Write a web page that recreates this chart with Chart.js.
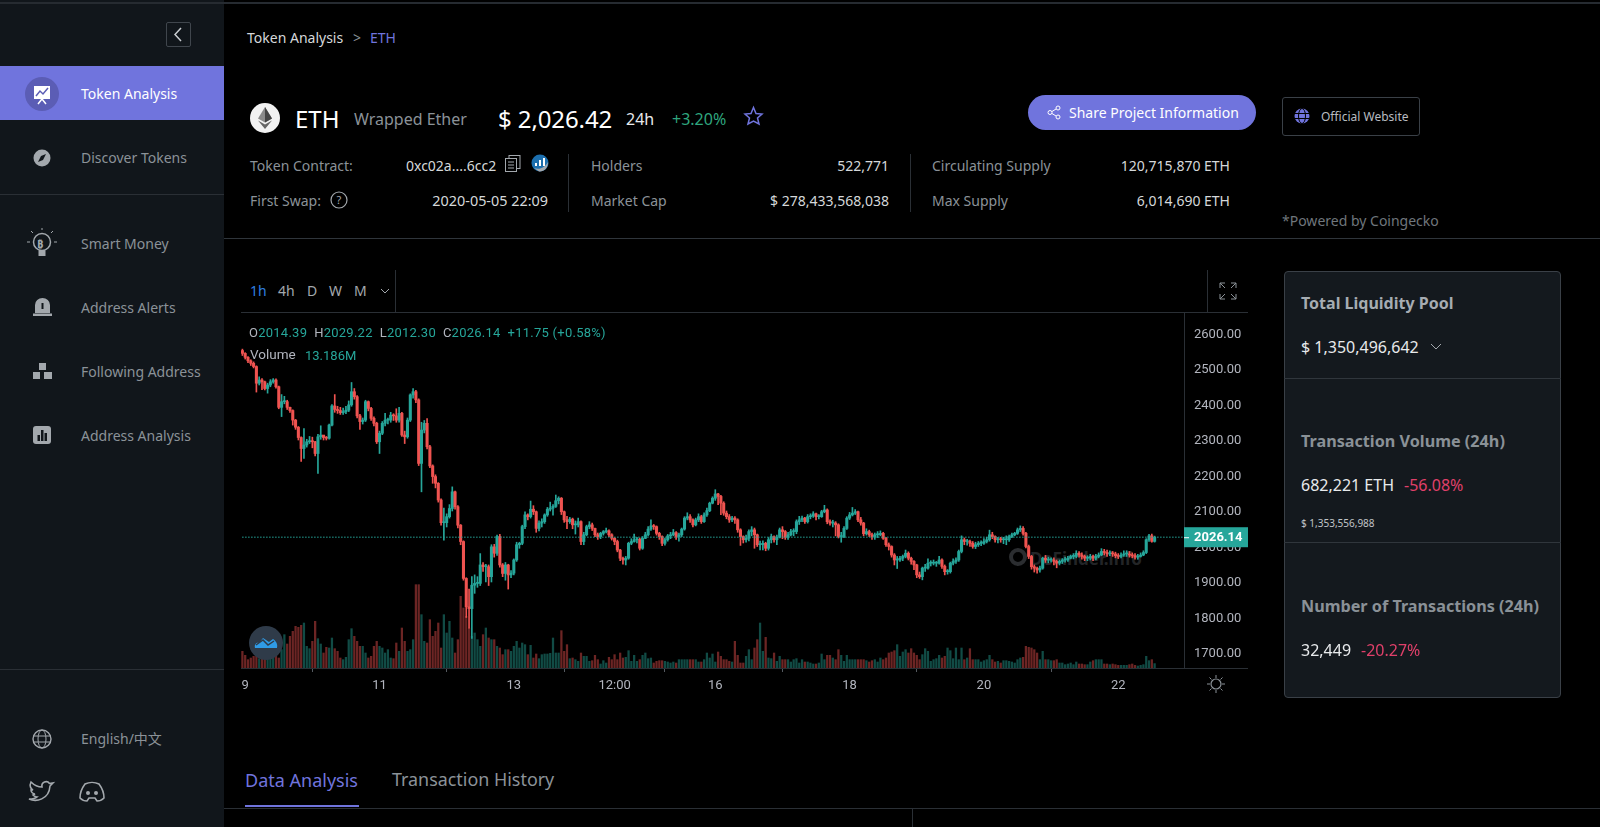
<!DOCTYPE html>
<html lang="en">
<head>
<meta charset="UTF-8">
<title>Token Analysis - ETH</title>
<script src="https://cdn.jsdelivr.net/npm/chart.js"></script>
<style>
  html, body { margin: 0; width: 1600px; height: 827px; overflow: hidden; background: #000; font-family: "Noto Sans", sans-serif; color: #d5d8da; }
  .t { position: absolute; white-space: nowrap; transform: translateY(-50%); font-size: 14px; line-height: 1; }
  .r { transform: translate(-100%, -50%); }
  .gray { color: #8b9298; }
  .box { position: absolute; box-sizing: border-box; }
  .hl { position: absolute; height: 1px; background: #2a2f35; }
  .vl { position: absolute; width: 1px; background: #2a2f35; }
  svg { position: absolute; overflow: visible; }
  #chartWrap { position: absolute; left: 241px; top: 312px; width: 1007px; height: 386px; }
</style>
</head>
<body>
<div class="box" style="left:0;top:0;width:224px;height:827px;background:#11161b"></div>
<div class="hl" style="left:0;top:2px;width:1600px;height:2px;background:#262b31"></div>

<!-- sidebar -->
<div class="box" style="left:166px;top:22px;width:25px;height:25px;border:1px solid #40464d;border-radius:2px"></div>
<svg style="left:166px;top:22px" width="25" height="25"><path d="M15 6 L9 12.5 L15 19" fill="none" stroke="#c8ccd0" stroke-width="1.5"/></svg>
<div class="box" style="left:0;top:66px;width:224px;height:54px;background:#7074dd"></div>
<svg style="left:25px;top:76px" width="34" height="36"><circle cx="17" cy="18" r="17" fill="#5b5db5"/><rect x="9" y="10" width="16" height="13" fill="#fff"/><path d="M11 20 L15 15 L18 18 L23 12" fill="none" stroke="#5b5db5" stroke-width="1.5"/><path d="M13 28 L17 23 L21 28" fill="none" stroke="#fff" stroke-width="1.5"/></svg>
<div class="t" style="left:81px;top:94px;color:#fff">Token Analysis</div>
<svg style="left:33px;top:149px" width="20" height="20"><circle cx="9" cy="9" r="8.5" fill="#a3a8ad"/><path d="M5 13 L8 7 L13 5 L10 11 Z" fill="#11161b"/></svg>
<div class="t gray" style="left:81px;top:158px">Discover Tokens</div>
<div class="hl" style="left:0;top:194px;width:224px"></div>
<svg style="left:27px;top:228px" width="30" height="30"><circle cx="15" cy="14" r="8.5" fill="none" stroke="#a3a8ad" stroke-width="1.5"/><rect x="11.5" y="23" width="7" height="5" fill="#a3a8ad"/><path d="M3 14H0M30 14H27M6 5L4 3M24 5L26 3M15 2V0" stroke="#a3a8ad"/></svg>
<div class="t" style="left:37px;top:243px;color:#a3a8ad;font-size:11px;font-weight:700">₿</div>
<div class="t gray" style="left:81px;top:244px">Smart Money</div>
<svg style="left:33px;top:298px" width="20" height="20"><path d="M2 15 V7 A7.5 7 0 0 1 17 7 V15 Z" fill="#a3a8ad"/><rect x="0" y="15.5" width="19" height="2.5" fill="#a3a8ad"/><rect x="8.5" y="5" width="2" height="6" fill="#11161b"/></svg>
<div class="t gray" style="left:81px;top:308px">Address Alerts</div>
<svg style="left:32px;top:362px" width="22" height="20"><path d="M7 1h7v7H7zM1 10h7v7H1zM12 10h8v7h-8z" fill="#a3a8ad"/></svg>
<div class="t gray" style="left:81px;top:372px">Following Address</div>
<svg style="left:33px;top:426px" width="20" height="20"><rect width="18" height="18" rx="3" fill="#a3a8ad"/><path d="M4.5 15V9h2.5v6zM8 15V4h2.5v11zM11.5 15V7H14v8z" fill="#11161b"/></svg>
<div class="t gray" style="left:81px;top:436px">Address Analysis</div>
<div class="hl" style="left:0;top:669px;width:224px"></div>
<svg style="left:32px;top:729px" width="20" height="20"><circle cx="10" cy="10" r="9" fill="none" stroke="#a3a8ad" stroke-width="1.4"/><ellipse cx="10" cy="10" rx="4" ry="9" fill="none" stroke="#a3a8ad"/><path d="M1 7h18M1 13h18" stroke="#a3a8ad"/></svg>
<div class="t gray" style="left:81px;top:739px;font-family:'Noto Sans','Noto Sans CJK SC'">English/中文</div>
<svg style="left:28px;top:780px" width="26" height="24"><path d="M1 19 C8 22 21 20 22 6 L25 3 L21.5 3.5 C19 0 13 2 14 7 C9 7 5 4 3 2 C1 6 3 9 5 10 L3 10 C3 12 5 14 7 14 L5 15 C6 16 8 17 9 17 C7 19 4 19 1 19 Z" fill="none" stroke="#a3a8ad" stroke-width="1.6"/></svg>
<svg style="left:79px;top:781px" width="27" height="22"><path d="M6 3 C10 1 16 1 20 3 C23 7 25 12 25 17 C23 19 20 20 18 20 L16 17 H10 L8 20 C6 20 3 19 1 17 C1 12 3 7 6 3 Z" fill="none" stroke="#a3a8ad" stroke-width="1.6"/><circle cx="9" cy="12" r="2" fill="#a3a8ad"/><circle cx="17" cy="12" r="2" fill="#a3a8ad"/></svg>

<!-- header -->
<div class="t" style="left:247px;top:38px">Token Analysis</div>
<div class="t gray" style="left:353px;top:38px">&gt;</div>
<div class="t" style="left:370px;top:38px;color:#7074dd">ETH</div>
<svg style="left:250px;top:103px" width="30" height="30"><circle cx="15" cy="15" r="15" fill="#f2f2f2"/><path d="M15 4 L22 15.5 L15 19.5 L8 15.5 Z" fill="#8a8a8a"/><path d="M15 4 L22 15.5 L15 19.5 Z" fill="#444"/><path d="M8 17.5 L15 26 L22 17.5 L15 21.5 Z" fill="#666"/></svg>
<div class="t" style="left:295px;top:119px;font-size:24px;color:#fff">ETH</div>
<div class="t gray" style="left:354px;top:119px;font-size:16px">Wrapped Ether</div>
<div class="t" style="left:498px;top:119px;font-size:24px;color:#fff;letter-spacing:-.1px">$ 2,026.42</div>
<div class="t" style="left:626px;top:119px;font-size:16px;color:#e8eaec">24h</div>
<div class="t" style="left:672px;top:119px;font-size:16px;color:#2fa67e">+3.20%</div>
<svg style="left:744px;top:106px" width="20" height="20"><path d="M9.5 1.5 L12 7.5 L18 8 L13.5 12 L15 18 L9.5 15 L4 18 L5.5 12 L1 8 L7 7.5 Z" fill="none" stroke="#7074dd" stroke-width="1.5"/></svg>

<div class="box" style="left:1028px;top:95px;width:228px;height:35px;background:#7074dd;border-radius:18px"></div>
<svg style="left:1047px;top:105px" width="14" height="15"><circle cx="3" cy="7.5" r="2" fill="none" stroke="#fff"/><circle cx="11" cy="3" r="2" fill="none" stroke="#fff"/><circle cx="11" cy="12" r="2" fill="none" stroke="#fff"/><path d="M5 6.5L9 4M5 8.5L9 11" stroke="#fff"/></svg>
<div class="t" style="left:1069px;top:113px;color:#fff">Share Project Information</div>
<div class="box" style="left:1282px;top:97px;width:138px;height:39px;border:1px solid #3a4047;border-radius:3px"></div>
<svg style="left:1294px;top:108px" width="17" height="17"><circle cx="8" cy="8" r="7.5" fill="#7074dd"/><ellipse cx="8" cy="8" rx="3.5" ry="7.5" fill="none" stroke="#000"/><path d="M0.5 5.5h15M0.5 10.5h15" stroke="#000"/></svg>
<div class="t" style="left:1321px;top:117px;font-size:12px;color:#b8bcc0">Official Website</div>

<div class="t gray" style="left:250px;top:166px">Token Contract:</div>
<div class="t" style="left:406px;top:166px">0xc02a....6cc2</div>
<svg style="left:505px;top:155px" width="16" height="17"><rect x="4" y="0.5" width="11" height="13" fill="none" stroke="#a3a8ad"/><rect x="0.5" y="3.5" width="11" height="13" fill="#000" stroke="#a3a8ad"/><path d="M3 7h6M3 10h6M3 13h6" stroke="#a3a8ad"/></svg>
<svg style="left:531px;top:154px" width="18" height="18"><circle cx="9" cy="9" r="8.5" fill="#1c6fae"/><path d="M5 12V9M9 12V6M13 12V4" stroke="#fff" stroke-width="2"/><path d="M3 14 C8 16 14 14 17 8 C17 14 13 18 8 17.5Z" fill="#a3a8ad"/></svg>
<div class="t gray" style="left:250px;top:201px">First Swap:</div>
<svg style="left:330px;top:191px" width="18" height="18"><circle cx="9" cy="9" r="8" fill="none" stroke="#a3a8ad" stroke-width="1.2"/><text x="9" y="13" text-anchor="middle" font-size="11" fill="#a3a8ad">?</text></svg>
<div class="t r" style="left:548px;top:201px;font-size:14.4px">2020-05-05 22:09</div>
<div class="vl" style="left:568px;top:154px;height:58px"></div>
<div class="t gray" style="left:591px;top:166px">Holders</div>
<div class="t r" style="left:889px;top:166px">522,771</div>
<div class="t gray" style="left:591px;top:201px">Market Cap</div>
<div class="t r" style="left:889px;top:201px">$ 278,433,568,038</div>
<div class="vl" style="left:910px;top:154px;height:58px"></div>
<div class="t gray" style="left:932px;top:166px">Circulating Supply</div>
<div class="t r" style="left:1230px;top:166px">120,715,870 ETH</div>
<div class="t gray" style="left:932px;top:201px">Max Supply</div>
<div class="t r" style="left:1230px;top:201px">6,014,690 ETH</div>
<div class="t" style="left:1282px;top:221px;color:#6f767c">*Powered by Coingecko</div>
<div class="hl" style="left:224px;top:238px;width:1376px;background:#2f353b"></div>

<!-- chart toolbar -->
<div class="t" style="left:250px;top:291px;color:#2f7fe0">1h</div>
<div class="t" style="left:278px;top:291px;color:#a3a8ad">4h</div>
<div class="t" style="left:307px;top:291px;color:#a3a8ad">D</div>
<div class="t" style="left:329px;top:291px;color:#a3a8ad">W</div>
<div class="t" style="left:354px;top:291px;color:#a3a8ad">M</div>
<svg style="left:380px;top:288px" width="10" height="6"><path d="M1 1L5 5L9 1" fill="none" stroke="#a3a8ad"/></svg>
<div class="vl" style="left:395px;top:270px;height:42px"></div>
<div class="vl" style="left:1207px;top:270px;height:42px"></div>
<svg style="left:1219px;top:282px" width="18" height="18"><path d="M1 6V1H6M1 1L6 6M17 6V1H12M17 1L12 6M1 12V17H6M1 17L6 12M17 12V17H12M17 17L12 12" fill="none" stroke="#8b9298"/></svg>
<div class="hl" style="left:241px;top:312px;width:1007px"></div>
<div class="hl" style="left:1184px;top:668px;width:64px"></div>

<!-- watermark sits under the chart canvas -->
<div class="t" style="left:1030px;top:558px;font-size:17px;font-weight:700;color:#232527">DeFinder.info</div>
<svg style="left:1009px;top:548px" width="18" height="20"><circle cx="9" cy="9" r="7" fill="none" stroke="#2b2d30" stroke-width="4"/></svg>

<div id="chartWrap"><canvas id="priceChart" width="1007" height="386"></canvas></div>

<div class="t" style="left:249px;top:332px;font-size:13px;font-family:Roboto;color:#b2b5be;letter-spacing:.25px">O<span style="color:#26a69a">2014.39</span>&nbsp; H<span style="color:#26a69a">2029.22</span>&nbsp; L<span style="color:#26a69a">2012.30</span>&nbsp; C<span style="color:#26a69a">2026.14</span>&nbsp; <span style="color:#26a69a">+11.75 (+0.58%)</span></div>
<div class="t" style="left:250px;top:355px;font-size:13.5px;font-family:Roboto;color:#b2b5be">Volume</div>
<div class="t" style="left:305px;top:355px;font-size:13px;font-family:Roboto;color:#26a69a">13.186M</div>
<svg style="left:249px;top:626px" width="34" height="34"><circle cx="17" cy="17" r="17" fill="#2f3b49"/><path d="M6 22 C5 18 8 16 10 17 L14 12 L20 16 L24 13 C27 15 29 18 28 22 Z" fill="#2f9be6"/><path d="M7 19 L14 14 L19 19 L25 15" fill="none" stroke="#2f3b49" stroke-width="1.5"/></svg>
<svg style="left:1207px;top:675px" width="18" height="18"><circle cx="9" cy="9" r="5" fill="none" stroke="#8b9298" stroke-width="1.2"/><path d="M9 0V3M9 15V18M0 9H3M15 9H18M2.5 2.5L4.5 4.5M13.5 13.5L15.5 15.5M2.5 15.5L4.5 13.5M13.5 4.5L15.5 2.5" stroke="#8b9298"/></svg>

<!-- right card -->
<div class="box" style="left:1284px;top:271px;width:277px;height:427px;background:#14191e;border:1px solid #3a4047;border-radius:4px"></div>
<div class="t" style="left:1301px;top:303px;font-size:16px;font-weight:700;color:#a6acb2">Total Liquidity Pool</div>
<div class="t" style="left:1301px;top:347px;font-size:16px;color:#e8eaec">$ 1,350,496,642</div>
<svg style="left:1430px;top:343px" width="12" height="8"><path d="M1 1L6 6L11 1" fill="none" stroke="#a3a8ad"/></svg>
<div class="hl" style="left:1284px;top:378px;width:277px;background:#30363c"></div>
<div class="t" style="left:1301px;top:441px;font-size:16.2px;font-weight:700;color:#8a9197">Transaction Volume (24h)</div>
<div class="t" style="left:1301px;top:485px;font-size:16px;color:#e8eaec">682,221 ETH</div>
<div class="t" style="left:1404px;top:485px;font-size:16px;color:#e0406a">-56.08%</div>
<div class="t" style="left:1301px;top:523px;font-size:10px;color:#c0c4c8">$ 1,353,556,988</div>
<div class="hl" style="left:1284px;top:542px;width:277px;background:#30363c"></div>
<div class="t" style="left:1301px;top:606px;font-size:16.2px;font-weight:700;color:#8a9197">Number of Transactions (24h)</div>
<div class="t" style="left:1301px;top:650px;font-size:16px;color:#e8eaec">32,449</div>
<div class="t" style="left:1361px;top:650px;font-size:16px;color:#e0406a">-20.27%</div>

<!-- tabs -->
<div class="t" style="left:245px;top:780px;font-size:18px;color:#7074dd">Data Analysis</div>
<div class="t gray" style="left:392px;top:780px;font-size:17.9px">Transaction History</div>
<div class="hl" style="left:224px;top:808px;width:1376px;background:#2a2f35"></div>
<div class="hl" style="left:245px;top:805px;width:114px;height:2px;background:#7074dd"></div>
<div class="vl" style="left:912px;top:808px;height:19px"></div>

<script>
const firstOpen = 2552;
const closes = [
  2544,2533,2523,2516,2507,2460,2469,2464,2445,2455,
  2464,2469,2450,2392,2408,2408,2392,2383,2356,2336,
  2307,2276,2286,2295,2298,2295,2262,2309,2314,2307,
  2305,2342,2396,2386,2383,2377,2380,2384,2399,2436,
  2422,2368,2352,2356,2408,2389,2361,2347,2295,2319,
  2347,2356,2356,2370,2368,2356,2375,2314,2309,2356,
  2427,2436,2413,2234,2328,2347,2281,2227,2197,2178,
  2131,2067,2067,2084,2107,2154,2112,2060,2014,1910,
  1830,1825,1891,1896,1896,1948,1943,1943,1915,1999,
  1981,2028,1948,1924,1948,1920,
  1925,1962,2005,2009,2056,2089,2084,2105,2098,2051,
  2066,2070,2089,2105,2108,2113,2129,2136,2098,2075,
  2070,2077,2061,2061,2070,2014,2033,2056,2061,2051,
  2033,2028,2037,2042,2044,2033,2023,2014,1990,1967,
  1962,1967,2009,2014,2019,2020,1995,2023,2033,2049,
  2058,2056,2037,2028,2009,2019,2030,2033,2039,2028,
  2033,2049,2080,2084,2075,2061,2075,2084,2070,2089,
  2101,2122,2136,2148,2141,2122,2094,2084,2075,2080,
  2075,2047,2028,2019,2023,2042,2047,2033,2005,2005,
  2009,1995,2019,2028,2019,2026,2047,2042,2026,2033,
  2042,2042,2070,2075,2080,2070,2084,2086,2092,2084,
  2084,2098,2103,2070,2066,2066,2061,2028,2028,2051,
  2080,2089,2094,2098,2075,2066,
  2036,2042,2033,2028,2033,2033,2037,2023,2005,2000,
  1976,1962,1962,1967,1972,1981,1967,1958,1948,1920,
  1915,1939,1939,1953,1953,1953,1953,1962,1944,1929,
  1929,1953,1958,1962,1986,2019,2014,2014,2009,2000,
  2005,2009,2009,2014,2019,2033,2028,2019,2020,2019,
  2019,2019,2028,2033,2037,2047,2051,2037,2000,1972,
  1943,1939,1934,1939,1967,1962,1962,1962,1958,1953,
  1958,1962,1962,1967,1972,1972,1981,1976,1972,1967,
  1967,1972,1967,1972,1976,1986,1983,1979,1981,1979,
  1974,1972,1976,1979,1979,1976,1974,1970,1972,1976,
  1983,2019,2030,2014.39,2026.14
];
const highs = [
  2556,2546,2535,2526,2520,2509,2478,2473,2466,2460,
  2470,2473,2472,2452,2428,2423,2412,2393,2385,2358,
  2338,2309,2332,2302,2310,2308,2296,2316,2340,2312,
  2310,2345,2400,2428,2395,2392,2390,2395,2410,2462,
  2445,2425,2372,2362,2412,2410,2392,2365,2350,2325,
  2352,2375,2362,2378,2374,2388,2392,2378,2325,2362,
  2430,2445,2440,2416,2350,2355,2360,2285,2230,2202,
  2180,2134,2108,2092,2118,2168,2156,2115,2062,2016,
  1912,1880,1915,1920,1915,1980,1955,1950,1948,2005,
  2006,2032,2034,1952,1955,1950,
  1932,1965,2012,2012,2060,2098,2092,2128,2115,2100,
  2072,2078,2092,2110,2125,2118,2145,2140,2138,2100,
  2085,2082,2080,2072,2080,2072,2040,2060,2070,2066,
  2052,2038,2040,2045,2052,2047,2036,2025,2018,1992,
  1970,1972,2012,2022,2035,2026,2024,2028,2040,2056,
  2075,2062,2058,2040,2030,2024,2034,2040,2048,2042,
  2038,2052,2084,2095,2090,2078,2080,2092,2088,2095,
  2108,2125,2140,2160,2150,2144,2126,2100,2090,2085,
  2084,2078,2050,2030,2032,2047,2056,2052,2035,2015,
  2016,2012,2025,2035,2030,2032,2052,2056,2045,2040,
  2048,2050,2075,2085,2086,2082,2090,2092,2098,2094,
  2090,2102,2116,2106,2075,2074,2070,2064,2040,2056,
  2084,2096,2110,2104,2100,2082,
  2068,2050,2046,2038,2038,2042,2044,2040,2026,2010,
  2002,1980,1972,1972,1976,1990,1985,1970,1960,1950,
  1928,1942,1950,1965,1960,1962,1958,1972,1965,1948,
  1935,1956,1965,1968,1990,2030,2024,2020,2018,2014,
  2012,2014,2016,2022,2026,2046,2040,2030,2026,2026,
  2026,2030,2032,2038,2040,2052,2058,2056,2040,2004,
  1975,1948,1942,1945,1970,1975,1970,1968,1968,1962,
  1962,1966,1970,1972,1976,1980,1988,1986,1982,1976,
  1974,1978,1976,1978,1982,1994,1992,1990,1988,1986,
  1984,1980,1982,1988,1988,1986,1982,1980,1978,1982,
  1988,2022,2034,2035,2029.22
];
const lows = [
  2538,2528,2518,2510,2503,2435,2455,2442,2441,2432,
  2450,2460,2446,2388,2366,2402,2386,2378,2342,2330,
  2300,2240,2248,2280,2290,2278,2255,2206,2302,2300,
  2300,2302,2340,2378,2375,2372,2372,2374,2380,2395,
  2415,2362,2330,2345,2352,2382,2355,2340,2290,2262,
  2315,2340,2345,2350,2355,2350,2350,2310,2290,2305,
  2352,2418,2405,2228,2154,2320,2275,2222,2178,2165,
  2125,2060,2018,2055,2080,2100,2105,2052,2005,1905,
  1800,1770,1741,1868,1885,1890,1930,1900,1890,1900,
  1970,1975,1942,1915,1905,1880,
  1912,1920,1958,1995,2005,2050,2075,2080,2090,2040,
  2044,2055,2065,2085,2100,2088,2110,2120,2090,2068,
  2050,2065,2050,2035,2055,2005,2005,2030,2050,2045,
  2028,2020,2022,2032,2038,2028,2018,2005,1985,1960,
  1950,1948,1964,2005,2012,2010,1990,1992,2022,2030,
  2045,2048,2032,2020,2002,2004,2015,2022,2030,2020,
  2015,2028,2046,2075,2068,2055,2058,2070,2065,2068,
  2085,2098,2120,2130,2118,2090,2088,2078,2068,2070,
  2065,2040,2003,2010,2012,2016,2030,1995,2000,1990,
  1990,1988,1990,2010,2012,2005,2024,2022,2020,2020,
  2030,2030,2036,2062,2070,2065,2066,2078,2082,2075,
  2078,2082,2095,2064,2060,2055,2030,2024,2012,2025,
  2048,2076,2086,2090,2070,2060,
  2030,2032,2028,2020,2020,2025,2030,2020,2000,1990,
  1970,1948,1938,1958,1960,1968,1962,1950,1935,1912,
  1910,1906,1930,1936,1945,1948,1944,1950,1938,1920,
  1922,1925,1948,1952,1958,1982,2005,2004,2000,1995,
  1994,2000,2002,2006,2010,2015,2022,2012,2010,2012,
  2008,2005,2014,2025,2030,2034,2042,2032,1996,1966,
  1936,1928,1925,1928,1936,1955,1954,1956,1948,1940,
  1948,1952,1956,1958,1965,1965,1968,1970,1964,1960,
  1960,1962,1960,1962,1968,1974,1976,1972,1974,1972,
  1968,1966,1968,1972,1972,1970,1968,1964,1964,1970,
  1974,1980,2014,2012,2012.30
];
// volume in millions
const volumes = [
  50,38,25,30,35,42,28,30,45,55,
  35,30,48,30,55,100,72,95,110,125,
  122,128,135,65,58,80,140,88,72,45,
  62,60,90,58,50,30,25,32,85,118,
  95,80,65,65,45,30,35,65,80,65,
  60,45,55,30,28,75,50,120,80,50,
  55,85,250,250,160,80,75,145,95,110,
  135,60,160,105,140,90,45,85,215,180,
  155,120,95,105,85,65,100,120,90,85,
  85,65,60,40,55,55,
  50,65,80,60,75,70,40,68,30,42,
  28,40,42,42,44,90,45,45,112,50,
  70,28,30,25,20,45,35,35,20,22,
  38,25,12,22,15,32,25,40,25,45,
  30,32,52,20,38,20,25,38,45,28,
  30,15,20,22,22,20,18,15,18,15,
  25,25,25,25,25,25,25,18,18,25,
  45,30,42,18,48,35,25,25,20,18,
  80,38,15,15,35,55,25,60,85,135,
  50,92,30,28,45,20,35,25,25,25,
  18,25,28,15,25,18,18,15,12,12,
  15,42,25,38,38,30,25,55,38,20,
  38,25,25,25,25,25,
  25,22,18,22,25,18,30,25,30,45,
  48,52,70,35,48,55,45,58,45,38,
  25,40,58,50,20,25,28,38,30,35,
  60,52,28,60,25,60,25,30,58,25,
  25,25,18,22,25,38,25,18,20,15,
  22,22,20,18,15,25,30,32,65,62,
  60,55,45,25,50,25,25,22,22,25,
  15,15,10,12,15,10,18,12,12,10,
  10,18,22,25,25,25,12,12,10,12,
  10,8,8,8,8,10,12,8,6,8,
  10,35,22,25,13.186
];
const tickLabels = { 1: '9', 49: '11', 97: '13', 133: '12:00', 169: '16', 217: '18', 265: '20', 313: '22' };
const priceTicks = [1700, 1800, 1900, 2000, 2100, 2200, 2300, 2400, 2500, 2600];
const lastPrice = 2026.14;
const slots = 337; // bar slots on the time axis, the right ones stay empty

const upColor = '#26a69a';
const downColor = '#ef5350';

const opens = closes.map((c, i) => i === 0 ? firstOpen : closes[i - 1]);
const candleColors = closes.map((c, i) => c >= opens[i] ? upColor : downColor);
const volumeColors = closes.map((c, i) => c >= opens[i] ? 'rgba(38,166,154,0.45)' : 'rgba(239,83,80,0.45)');
const categories = Array.from({ length: slots }, (_, i) => i);

// chart area must fill the canvas up to the fixed axis sizes
const noPadding = s => { s.paddingTop = 0; s.paddingBottom = 0; s.paddingLeft = 0; s.paddingRight = 0; };

// teal tag with the last price on the right axis
const lastPriceTag = {
    id: 'lastPriceTag',
    afterDraw(chart) {
        const { ctx, scales } = chart;
        const y = scales.y.getPixelForValue(lastPrice);
        const x = chart.chartArea.right;
        ctx.save();
        ctx.fillStyle = upColor;
        ctx.fillRect(x, y - 10, 64, 20);
        ctx.fillStyle = '#fff';
        ctx.fillRect(x, y, 5, 1);
        ctx.font = '700 13px Roboto';
        ctx.textBaseline = 'middle';
        ctx.fillText(lastPrice.toFixed(2), x + 10, y + 1);
        ctx.restore();
    }
};

new Chart(document.getElementById('priceChart').getContext('2d'), {
    data: {
        labels: categories,
        datasets: [
            {
                type: 'line',
                data: categories.map(() => lastPrice),
                borderColor: upColor,
                borderWidth: 1.4,
                borderDash: [1, 2],
                pointRadius: 0,
                yAxisID: 'y',
                order: 0
            },
            {
                type: 'bar',
                data: closes.map((c, i) => [opens[i], c]),
                backgroundColor: candleColors,
                barThickness: 2.4,
                minBarLength: 1,
                grouped: false,
                yAxisID: 'y',
                order: 1
            },
            {
                type: 'bar',
                data: highs.map((h, i) => [lows[i], h]),
                backgroundColor: candleColors,
                barThickness: 1,
                grouped: false,
                yAxisID: 'y',
                order: 2
            },
            {
                type: 'bar',
                data: volumes,
                backgroundColor: volumeColors,
                barThickness: 1.6,
                grouped: false,
                yAxisID: 'yVolume',
                order: 3
            }
        ]
    },
    options: {
        responsive: false,
        animation: false,
        layout: { padding: 0 },
        plugins: { legend: { display: false }, tooltip: { enabled: false } },
        scales: {
            x: {
                offset: true,
                afterFit: s => { s.height = 30; noPadding(s); },
                afterBuildTicks: s => { s.ticks = Object.keys(tickLabels).map(k => ({ value: +k })); },
                grid: { drawOnChartArea: false, color: '#555a60', tickLength: 4 },
                border: { color: '#2a2f35' },
                ticks: {
                    autoSkip: false,
                    maxRotation: 0,
                    padding: 6,
                    color: '#b2b5be',
                    font: { family: 'Roboto', size: 13 },
                    callback: value => tickLabels[value]
                }
            },
            y: {
                position: 'right',
                min: 1657.7,
                max: 2660.6,
                afterFit: s => { s.width = 64; noPadding(s); },
                afterBuildTicks: s => { s.ticks = priceTicks.map(v => ({ value: v })); },
                grid: { display: false, drawTicks: false, tickLength: 0 },
                border: { color: '#2a2f35' },
                ticks: {
                    padding: 10,
                    labelOffset: 1,
                    color: '#b2b5be',
                    font: { family: 'Roboto', size: 13 },
                    callback: v => v.toFixed(2)
                }
            },
            yVolume: {
                display: false,
                min: 0,
                max: 1068,
                afterFit: noPadding
            }
        }
    },
    plugins: [lastPriceTag]
});
</script>
</body>
</html>
